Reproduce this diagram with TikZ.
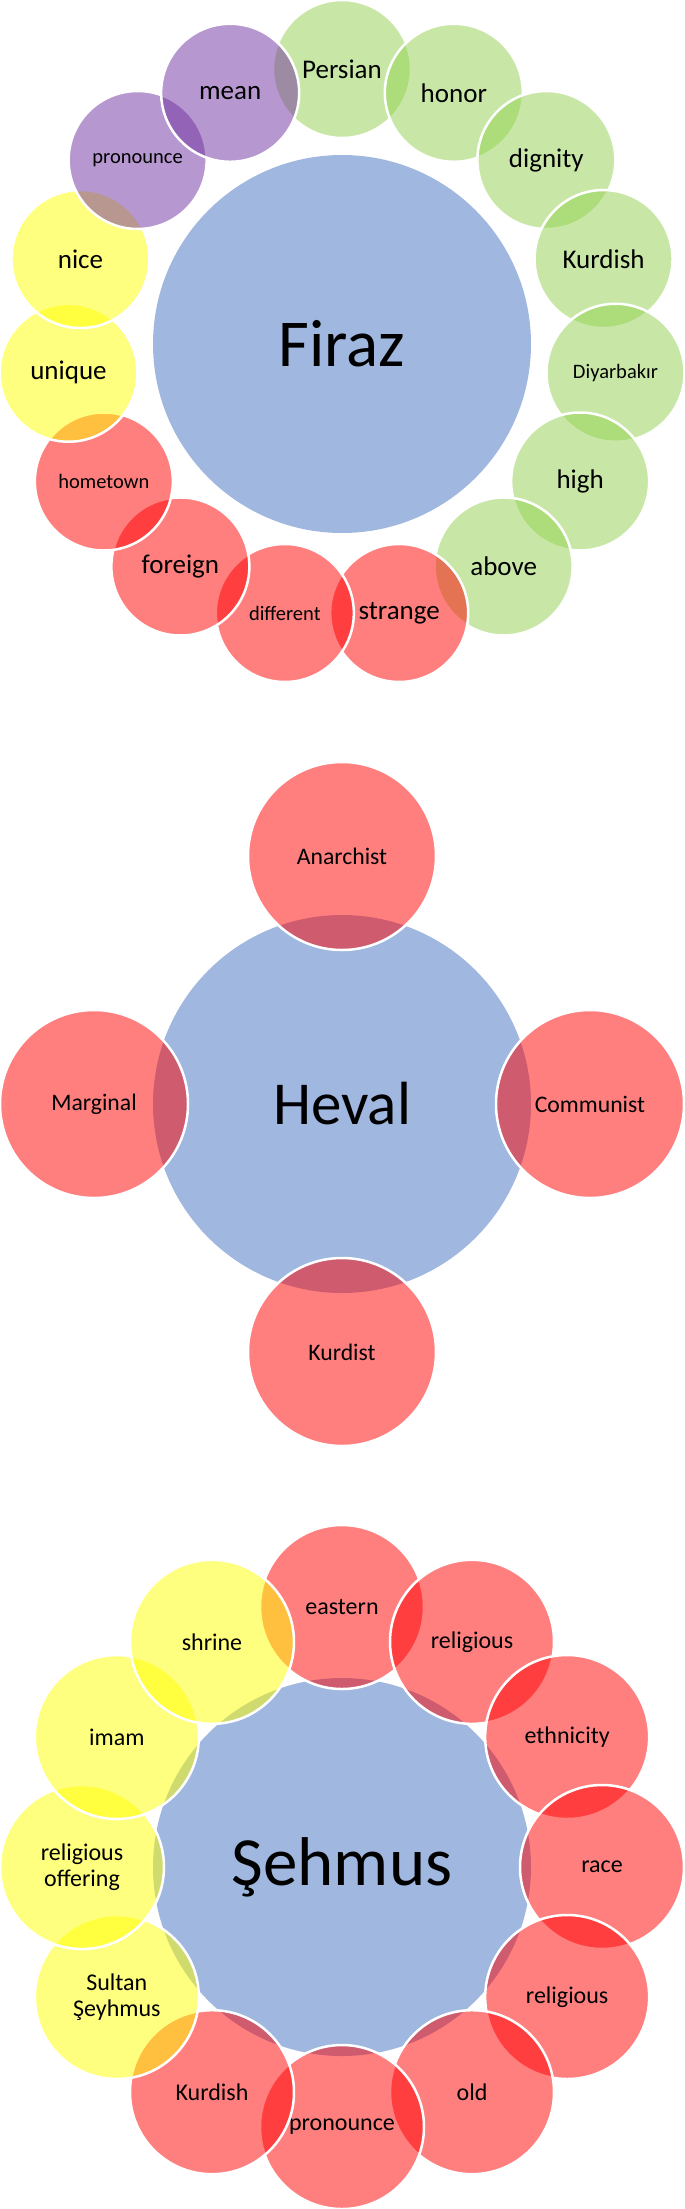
\documentclass[tikz,border=0pt]{standalone}
\usepackage{fontspec}
\setmainfont{Carlito}

\definecolor{hubblue}{RGB}{160,183,224}
\definecolor{leafred}{RGB}{255,0,0}
\definecolor{leafgreen}{RGB}{146,208,80}
\definecolor{leafpurple}{RGB}{112,48,160}
\definecolor{leafyellow}{RGB}{255,255,0}

\tikzset{
  hub/.style={circle,fill=hubblue,minimum size=378pt,inner sep=0pt},
  leaf/.style={circle,fill=#1,fill opacity=0.5,text opacity=1,draw=white,
    line width=2.5pt,inner sep=0pt,align=center},
  fleaf/.style={leaf=#1,minimum size=138pt,font=\fontsize{27}{32}\selectfont},
  fleafs/.style={fleaf=#1,font=\fontsize{20.5}{24}\selectfont},
  hleaf/.style={leaf=#1,minimum size=188pt,font=\fontsize{23.7}{28}\selectfont},
  sleaf/.style={leaf=#1,minimum size=164pt,font=\fontsize{24}{26.5}\selectfont},
}

\begin{document}
\begin{tikzpicture}[x=1pt,y=1pt]
  \useasboundingbox (0,0) rectangle (685,-2209);
  % Firaz: anillo de 15 circulos
  \begin{scope}[shift={(342,-344)}]
    \node[hub,font=\fontsize{67}{80}\selectfont] (firaz) at (0,0) {Firaz};
    \node[fleaf=leafgreen] (persian) at (90:275) {Persian};
    \node[fleaf=leafgreen] (honor) at (66:275) {honor};
    \node[fleaf=leafgreen] (dignity) at (42:275) {dignity};
    \node[fleaf=leafgreen] (kurdishF) at (18:275) {Kurdish};
    \node[fleafs=leafgreen] (diyarbakir) at (-6:275) {Diyarbakır};
    \node[fleaf=leafgreen] (high) at (-30:275) {high};
    \node[fleaf=leafgreen] (above) at (-54:275) {above};
    \node[fleaf=leafred] (strange) at (-78:275) {strange};
    \node[fleafs=leafred] (different) at (-102:275) {different};
    \node[fleaf=leafred] (foreign) at (-126:275) {foreign};
    \node[fleafs=leafred] (hometown) at (-150:275) {hometown};
    \node[fleaf=leafyellow] (unique) at (-174:275) {unique};
    \node[fleaf=leafyellow] (nice) at (-198:275) {nice};
    \node[fleafs=leafpurple] (pronounceF) at (-222:275) {pronounce};
    \node[fleaf=leafpurple] (mean) at (-246:275) {mean};
  \end{scope}
  % Heval: cuatro circulos
  \begin{scope}[shift={(342,-1104)}]
    \node[hub,font=\fontsize{61}{73}\selectfont] (heval) at (0,0) {Heval};
    \node[hleaf=leafred] (anarchist) at (90:248) {Anarchist};
    \node[hleaf=leafred] (communist) at (0:248) {Communist};
    \node[hleaf=leafred] (kurdist) at (-90:248) {Kurdist};
    \node[hleaf=leafred] (marginal) at (180:248) {Marginal};
  \end{scope}
  % Şehmus: anillo de 12 circulos
  \begin{scope}[shift={(342,-1867)}]
    \node[hub,font=\fontsize{69}{83}\selectfont] (sehmus) at (0,0) {Şehmus};
    \node[sleaf=leafred] (eastern) at (90:260) {eastern};
    \node[sleaf=leafred] (religiousA) at (60:260) {religious};
    \node[sleaf=leafred] (ethnicity) at (30:260) {ethnicity};
    \node[sleaf=leafred] (race) at (0:260) {race};
    \node[sleaf=leafred] (religiousB) at (-30:260) {religious};
    \node[sleaf=leafred] (old) at (-60:260) {old};
    \node[sleaf=leafred] (pronounceS) at (-90:260) {pronounce};
    \node[sleaf=leafred] (kurdishS) at (-120:260) {Kurdish};
    \node[sleaf=leafyellow] (sultan) at (-150:260) {Sultan\\Şeyhmus};
    \node[sleaf=leafyellow] (offering) at (180:260) {religious\\offering};
    \node[sleaf=leafyellow] (imam) at (150:260) {imam};
    \node[sleaf=leafyellow] (shrine) at (120:260) {shrine};
  \end{scope}
\end{tikzpicture}
\end{document}
